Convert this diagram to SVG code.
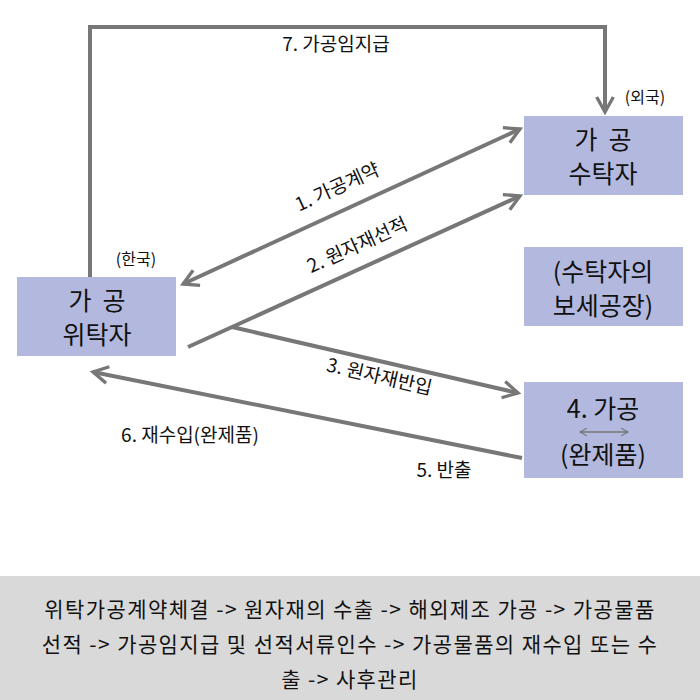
<svg xmlns="http://www.w3.org/2000/svg" width="700" height="700" viewBox="0 0 700 700">
<style>
text{font-family:"Noto Sans CJK KR","Noto Sans",sans-serif;fill:#111}
.box{fill:#b3b9de}
.bt{font-size:25px;text-anchor:middle}
.lb{font-size:19px;text-anchor:middle}
.ln{stroke:#777;stroke-width:4;fill:none}
.bot{font-size:21px;text-anchor:middle;letter-spacing:1.4px}
</style>
<defs>
<marker id="ah" viewBox="0 0 12 12" refX="10" refY="6" markerWidth="5" markerHeight="5" orient="auto-start-reverse" markerUnits="strokeWidth">
<path d="M1,1 L10,6 L1,11" fill="none" stroke="#777" stroke-width="2"/>
</marker>
<marker id="sa" viewBox="0 0 12 12" refX="10" refY="6" markerWidth="6" markerHeight="6" orient="auto-start-reverse" markerUnits="strokeWidth">
<path d="M1,1 L10,6 L1,11" fill="none" stroke="#777" stroke-width="1.5"/>
</marker>
</defs>
<rect width="700" height="700" fill="#fff"/>
<g id="connectors">
<path class="ln" d="M90,277 V27 H605 V112" marker-end="url(#ah)"/>
<line class="ln" x1="520" y1="129" x2="183" y2="284" marker-start="url(#ah)" marker-end="url(#ah)"/>
<line class="ln" x1="188" y1="347" x2="520" y2="196" marker-end="url(#ah)"/>
<line class="ln" x1="232" y1="327" x2="518" y2="393" marker-end="url(#ah)"/>
<line class="ln" x1="522" y1="458" x2="93" y2="372" marker-end="url(#ah)"/>
<text class="lb" x="336" y="51">7. 가공임지급</text>
<text class="lb" transform="translate(340,193) rotate(-24.5)">1. 가공계약</text>
<text class="lb" transform="translate(360,251) rotate(-24.5)">2. 원자재선적</text>
<text class="lb" transform="translate(378,383) rotate(12.9)">3. 원자재반입</text>
<text class="lb" x="190" y="442">6. 재수입(완제품)</text>
<text class="lb" x="444" y="477">5. 반출</text>
</g>
<g id="n-left">
<rect class="box" x="17" y="277" width="159" height="79"/>
<text class="bt" x="97" y="310" xml:space="preserve">가  공</text>
<text class="bt" x="97" y="344">위탁자</text>
<text class="lb" x="136" y="265" style="font-size:16px">(한국)</text>
</g>
<g id="n-top">
<rect class="box" x="524" y="116" width="159" height="79"/>
<text class="bt" x="603" y="149" xml:space="preserve">가  공</text>
<text class="bt" x="603" y="183">수탁자</text>
<text class="lb" x="645" y="103" style="font-size:16px">(외국)</text>
</g>
<g id="n-mid">
<rect class="box" x="524" y="247" width="159" height="79"/>
<text class="bt" x="603" y="281">(수탁자의</text>
<text class="bt" x="603" y="315">보세공장)</text>
</g>
<g id="n-bot">
<rect class="box" x="524" y="382" width="159" height="96"/>
<text class="bt" x="603" y="418">4. 가공</text>
<line x1="580" y1="432" x2="628" y2="432" stroke="#777" stroke-width="1.5" marker-start="url(#sa)" marker-end="url(#sa)"/>
<text class="bt" x="603" y="464">(완제품)</text>
</g>
<g id="caption">
<rect x="0" y="576" width="700" height="124" fill="#d9d9d9"/>
<text class="bot" x="350" y="617">위탁가공계약체결 -&gt; 원자재의 수출 -&gt; 해외제조 가공 -&gt; 가공물품</text>
<text class="bot" x="350" y="652">선적 -&gt; 가공임지급 및 선적서류인수 -&gt; 가공물품의 재수입 또는 수</text>
<text class="bot" x="350" y="687">출 -&gt; 사후관리</text>
</g>
</svg>
